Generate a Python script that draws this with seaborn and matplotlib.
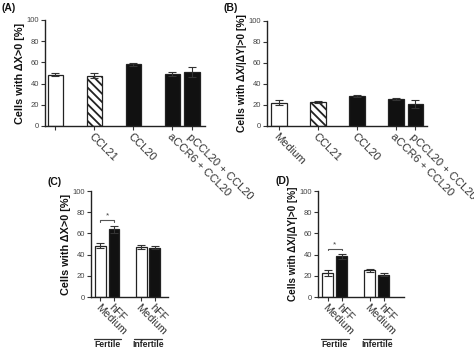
import numpy as np
import pandas as pd
import matplotlib
matplotlib.use("Agg")
import matplotlib.pyplot as plt
import matplotlib.transforms as mtransforms
import seaborn as sns

# ---------------- data ----------------
ab_conditions = ["Medium", "CCL21", "CCL20", "aCCR6 + CCL20", "pCCL20 + CCL20"]
a_tick_labels = ["", "CCL21", "CCL20", "aCCR6 + CCL20", "pCCL20 + CCL20"]
b_tick_labels = ["Medium", "CCL21", "CCL20", "aCCR6 + CCL20", "pCCL20 + CCL20"]
a_means = [48.5, 47.4, 58.1, 49.0, 50.6]
a_errs = [1.8, 2.2, 1.3, 2.2, 4.7]
b_means = [22.2, 23.1, 28.8, 25.6, 20.9]
b_errs = [2.3, 0.9, 0.9, 1.3, 3.5]

cd_groups = ["Fertile", "Fertile", "Infertile", "Infertile"]
cd_treatments = ["Medium", "hFF", "Medium", "hFF"]
c_means = [48.5, 64.0, 47.3, 46.5]
c_errs = [2.0, 3.4, 2.0, 1.3]
d_means = [22.9, 38.5, 25.2, 21.0]
d_errs = [2.9, 2.2, 1.6, 1.2]

ylabel_x = "Cells with \u0394X>0 [%]"
ylabel_xy = "Cells with \u0394X/|\u0394Y|>0 [%]"
yticks = [0, 20, 40, 60, 80, 100]

fills = {"Medium": "white", "CCL21": "white", "CCL20": "#111111",
         "aCCR6 + CCL20": "#111111", "pCCL20 + CCL20": "#111111", "hFF": "#111111"}
hatches = {"CCL21": "\\\\\\\\"}

# ---------------- style ----------------
sns.set_style("ticks")
plt.rcParams["font.family"] = ["Liberation Sans", "DejaVu Sans"]
plt.rcParams["hatch.linewidth"] = 1.3
plt.rcParams["hatch.color"] = "#111111"

fig = plt.figure(figsize=(4.74, 3.5), dpi=100)
W, H = 474.0, 350.0


def add_ax(left, right, top, bottom):
    return fig.add_axes([left / W, 1 - bottom / H, (right - left) / W, (bottom - top) / H])


axA = add_ax(44.7, 205, 20, 126)
axB = add_ax(267, 427, 20.7, 126)
axC = add_ax(91, 168, 191, 297)
axD = add_ax(318, 404, 191, 297)


def style_axis(ax, ylabel, xlim, yfs):
    ax.set_ylim(0, 100)
    ax.set_xlim(*xlim)
    ax.set_yticks(yticks)
    ax.set_yticklabels([str(t) for t in yticks], fontsize=5.5, color="#444444")
    ax.set_ylabel(ylabel, fontsize=yfs, fontweight="bold", labelpad=1, color="#111111")
    ax.set_xlabel("")
    sns.despine(ax=ax)
    for s in ("left", "bottom"):
        ax.spines[s].set_linewidth(1.0)
        ax.spines[s].set_color("#222222")
    ax.tick_params(axis="both", length=3, width=0.8, color="#333333", pad=1.2)


def draw_bars(ax, keys, fill_keys, means, errs, order):
    df = pd.DataFrame({"key": keys, "fill": fill_keys, "value": means})
    pal = {k: fills[k] for k in fill_keys}
    sns.barplot(data=df, x="key", y="value", hue="fill", order=order, palette=pal,
                dodge=False, width=0.8, edgecolor="#222222", linewidth=0.9,
                legend=False, errorbar=None, ax=ax)
    for p in ax.patches:
        cx = p.get_x() + p.get_width() / 2
        idx = int(round(cx))
        if 0 <= idx < len(order) and order[idx] in keys:
            fk = fill_keys[keys.index(order[idx])]
            if fk in hatches:
                p.set_hatch(hatches[fk])
    pos = [order.index(k) for k in keys]
    ax.errorbar(pos, means, yerr=errs, fmt="none", ecolor="#333333",
                elinewidth=0.8, capsize=2.6, capthick=0.8, zorder=5)
    return pos


def rot_labels(ax, pos, labels, fs):
    ax.set_xticks(pos)
    ax.set_xticklabels(labels, rotation=-45, ha="left", va="top",
                       rotation_mode="anchor", fontsize=fs, color="#333333")


# ---- panels A and B ----
ab_order = ["Medium", "_g1", "CCL21", "_g2", "CCL20", "_g3", "aCCR6 + CCL20", "pCCL20 + CCL20"]
posA = draw_bars(axA, ab_conditions, ab_conditions, a_means, a_errs, ab_order)
style_axis(axA, ylabel_x, (-0.55, 7.67), 7.8)
rot_labels(axA, posA, a_tick_labels, 8)

posB = draw_bars(axB, ab_conditions, ab_conditions, b_means, b_errs, ab_order)
style_axis(axB, ylabel_xy, (-0.62, 7.6), 7.4)
rot_labels(axB, posB, b_tick_labels, 8)

# ---- panels C and D ----
cd_keys = [g + " " + t for g, t in zip(cd_groups, cd_treatments)]
cd_order = [cd_keys[0], cd_keys[1], "_gap", cd_keys[2], cd_keys[3]]


def group_annot(ax, pos):
    trans = mtransforms.blended_transform_factory(ax.transData, ax.transAxes)
    for g in ["Fertile", "Infertile"]:
        gp = [p for p, gg in zip(pos, cd_groups) if gg == g]
        x0, x1 = min(gp) - 0.5, max(gp) + 0.55
        ax.plot([x0, x1], [-0.40, -0.40], transform=trans, clip_on=False,
                color="#333333", lw=0.9)
        ax.text((x0 + x1) / 2, -0.445, g, transform=trans, ha="center", va="center",
                fontsize=6.2, fontweight="bold", color="#222222")


def sig_bracket(ax, pos, means, errs):
    top = max(means[0] + errs[0], means[1] + errs[1]) + 5
    ax.plot([pos[0], pos[0], pos[1], pos[1]], [top - 1.8, top, top, top - 1.8],
            color="#555555", lw=0.8, clip_on=False)
    ax.text((pos[0] + pos[1]) / 2, top + 0.5, "*", ha="center", va="bottom",
            fontsize=6, color="#444444")


posC = draw_bars(axC, cd_keys, cd_treatments, c_means, c_errs, cd_order)
style_axis(axC, ylabel_x, (-0.69, 4.97), 7.8)
rot_labels(axC, posC, cd_treatments, 7.8)
group_annot(axC, posC)
sig_bracket(axC, posC, c_means, c_errs)

posD = draw_bars(axD, cd_keys, cd_treatments, d_means, d_errs, cd_order)
style_axis(axD, ylabel_xy, (-0.68, 5.44), 7.2)
rot_labels(axD, posD, cd_treatments, 7.8)
group_annot(axD, posD)
sig_bracket(axD, posD, d_means, d_errs)

# panel letters
for txt, x, y in [("(A)", 1, 3), ("(B)", 223, 3), ("(C)", 47, 177), ("(D)", 275, 176)]:
    fig.text(x / W, 1 - y / H, txt, ha="left", va="top", fontsize=7.5,
             fontweight="bold", color="#111111")

fig.savefig("out.png", dpi=100)
